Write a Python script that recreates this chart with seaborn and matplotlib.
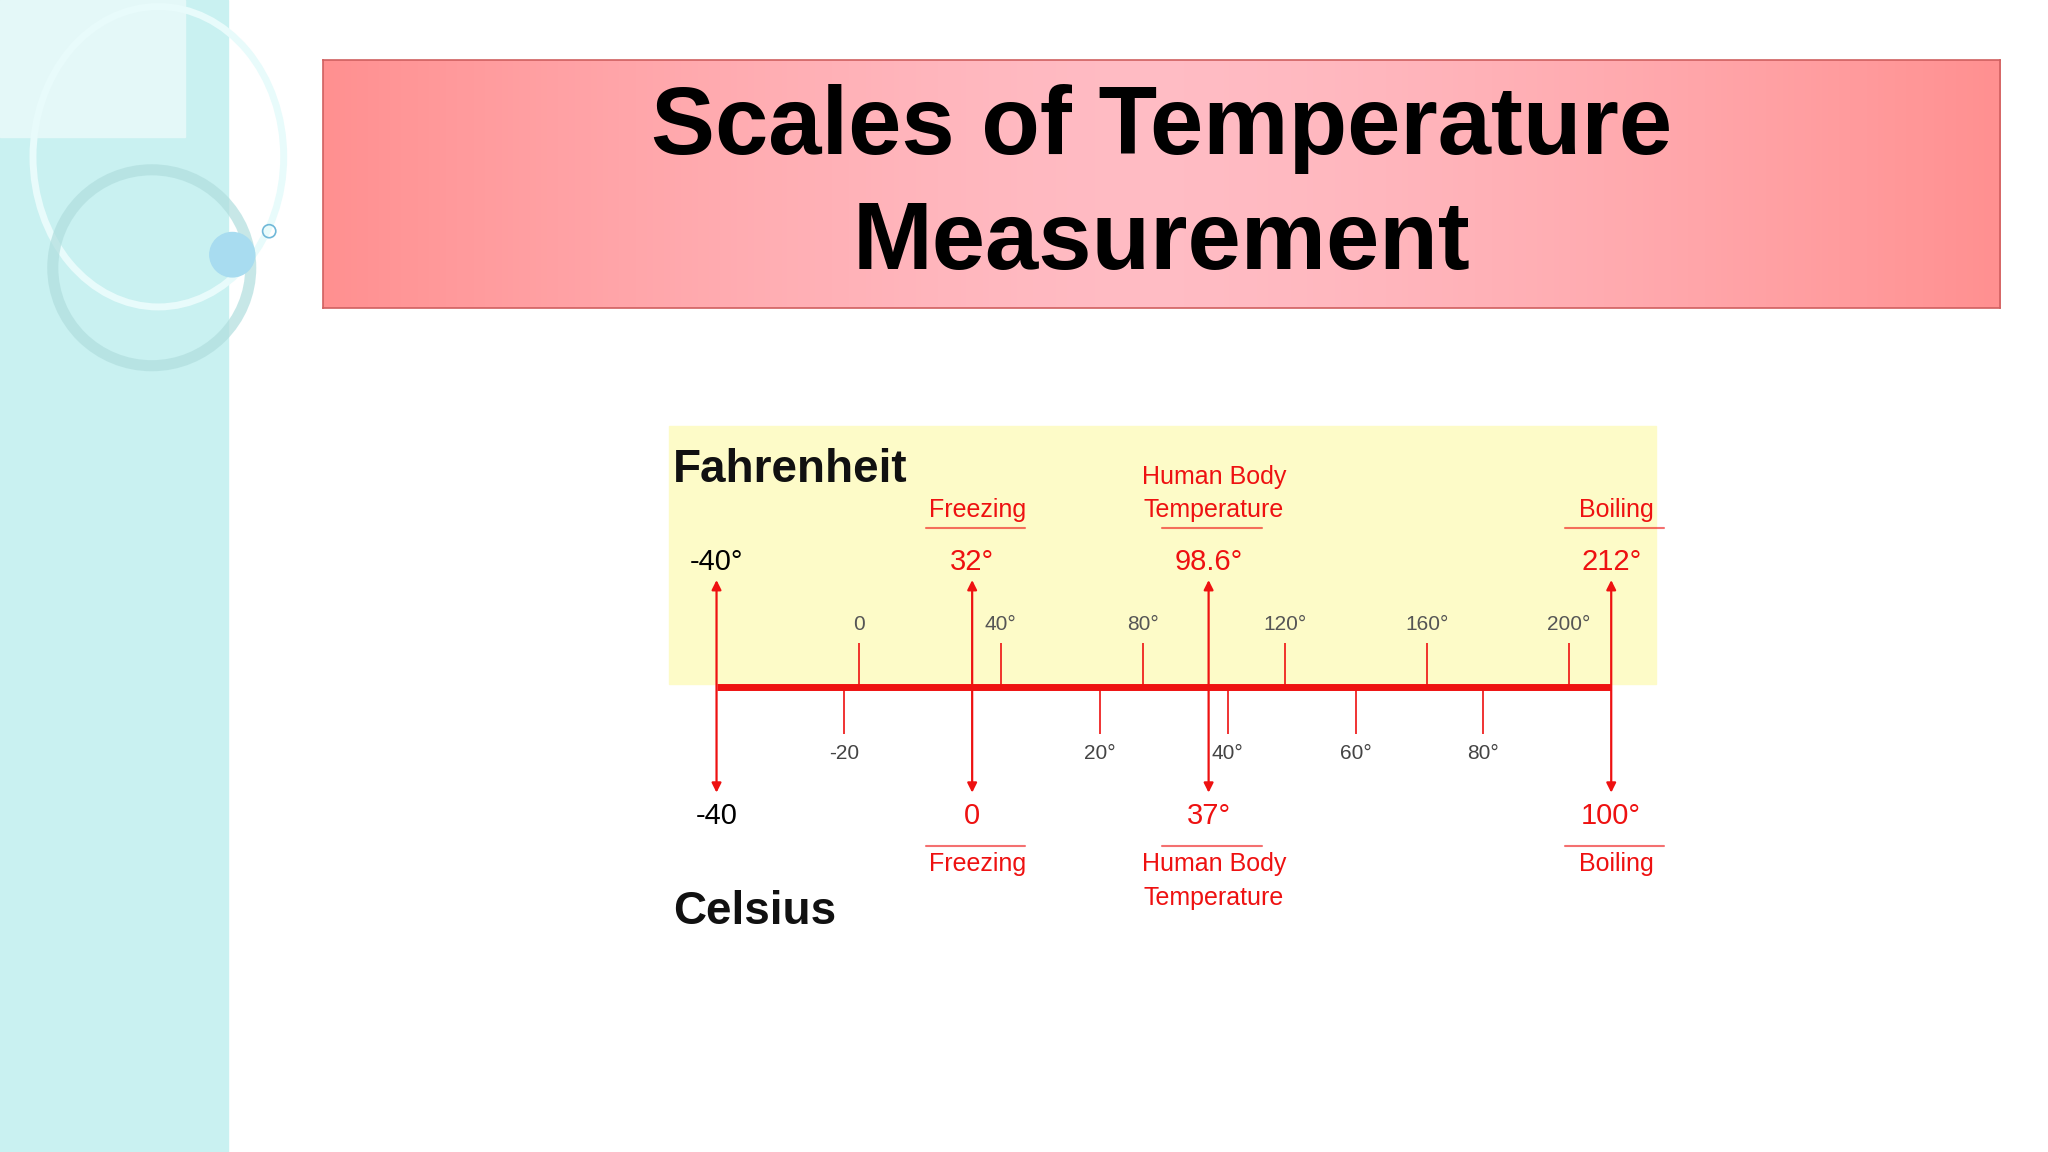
import numpy as np
import matplotlib
matplotlib.use("Agg")
import matplotlib.pyplot as plt
import seaborn as sns
from matplotlib.patches import Rectangle, Circle, Ellipse

sns.set_theme(style="white")
plt.rcParams['font.family'] = ['Liberation Sans', 'DejaVu Sans']

# data
title = "Scales of Temperature\nMeasurement"
f_ticks = [0, 40, 80, 120, 160, 200]
f_tick_labels = ["0", "40°", "80°", "120°", "160°", "200°"]
c_ticks = [-20, 20, 40, 60, 80]
c_tick_labels = ["-20", "20°", "40°", "60°", "80°"]
point_c = [-40, 0, 37, 100]
point_f = [-40, 32, 98.6, 212]
f_point_labels = ["-40°", "32°", "98.6°", "212°"]
c_point_labels = ["-40", "0", "37°", "100°"]
point_names = ["", "Freezing", "Human Body\nTemperature", "Boiling"]

RED = "#ee1111"
W, H = 1552, 882  # reference layout units

def c_to_f(c):
    return c * 9 / 5 + 32

fig = plt.figure(figsize=(20.48, 11.52), dpi=100)
fig.patch.set_facecolor("white")

# decorative sidebar
bg = fig.add_axes([0, 0, 1, 1])
bg.set_xlim(0, W); bg.set_ylim(H, 0); bg.axis("off")
bg.add_patch(Rectangle((0, 0), 173, H, color="#c9f1f1", zorder=0))
bg.add_patch(Rectangle((0, 0), 140, 105, color="#e4f8f8", zorder=1))
bg.add_patch(Ellipse((120, 120), 190, 230, fill=False, ec="#e8fbfb", lw=5, zorder=2))
bg.add_patch(Ellipse((115, 205), 150, 150, fill=False, ec="#b0dede", lw=8, alpha=0.7, zorder=2))
bg.add_patch(Circle((176, 195), 17, color="#a8dcf0", zorder=3))
bg.add_patch(Circle((204, 177), 5, fill=False, ec="#70b8d8", lw=1.2, zorder=3))

# title box with gradient
tx0, tx1, ty0, ty1 = 245, 1516, 46, 236
tax = fig.add_axes([tx0 / W, 1 - ty1 / H, (tx1 - tx0) / W, (ty1 - ty0) / H])
grad = np.linspace(-1, 1, 300)
grad = np.tile(1 - np.abs(grad) ** 1.5, (10, 1))
cmap = matplotlib.colors.LinearSegmentedColormap.from_list("pk", ["#ff9090", "#ffbcc4"])
tax.imshow(grad, aspect="auto", cmap=cmap, extent=[0, 1, 0, 1])
tax.set_xticks([]); tax.set_yticks([])
for s in tax.spines.values():
    s.set_color("#d06060"); s.set_linewidth(1.2)
tax.text(0.5, 0.49, title, ha="center", va="center", fontsize=69, fontweight="bold",
         color="black", linespacing=1.35, transform=tax.transAxes)

# thermometer chart: x in Fahrenheit, y in layout rows
px_per_f = 678 / 252
def px_to_f(px):
    return -40 + (px - 543) / px_per_f

xl, xr = 500, 1262
ax = fig.add_axes([xl / W, 1 - 740 / H, (xr - xl) / W, (740 - 320) / H])
ax.set_xlim(px_to_f(xl), px_to_f(xr))
ax.set_ylim(740, 320)
ax.axis("off")

ax.add_patch(Rectangle((px_to_f(507), 326), px_to_f(1255) - px_to_f(507), 198,
                       color="#fdfbc8", zorder=0))
ax.plot([-40, 212], [526, 526], color=RED, lw=5, solid_capstyle="butt", zorder=3)

ax.vlines(f_ticks, 492, 526, color=RED, lw=1.2)
for f, lab in zip(f_ticks, f_tick_labels):
    ax.text(f, 478, lab, ha="center", va="center", fontsize=15, color="#555555")
cf = [c_to_f(c) for c in c_ticks]
ax.vlines(cf, 526, 562, color=RED, lw=1.2)
for f, lab in zip(cf, c_tick_labels):
    ax.text(f, 577, lab, ha="center", va="center", fontsize=15, color="#444444")

for i, (f, c) in enumerate(zip(point_f, point_c)):
    xf = c_to_f(c)
    ax.annotate("", xy=(xf, 442), xytext=(xf, 609),
                arrowprops=dict(arrowstyle="<|-|>", color=RED, lw=1.6, mutation_scale=14))
    col = "black" if i == 0 else RED
    ax.text(f, 430, f_point_labels[i], ha="center", va="center", fontsize=21, color=col)
    ax.text(xf, 625, c_point_labels[i], ha="center", va="center", fontsize=21, color=col)
    if point_names[i]:
        name = point_names[i]
        ax.text(f + 1.5, 400, name, ha="center", va="bottom", fontsize=18, color=RED,
                linespacing=1.5)
        ax.plot([f - 13, f + 15], [404, 404], color=RED, lw=1.5, alpha=0.6)
        ax.text(f + 1.5, 652, name, ha="center", va="top", fontsize=18, color=RED,
                linespacing=1.55)
        ax.plot([f - 13, f + 15], [648, 648], color=RED, lw=1.5, alpha=0.6)

ax.text(px_to_f(510), 360, "Fahrenheit", ha="left", va="center", fontsize=33,
        fontweight="bold", color="#111111")
ax.text(px_to_f(510), 698, "Celsius", ha="left", va="center", fontsize=33,
        fontweight="bold", color="#111111")

fig.savefig("out.png", dpi=100)
